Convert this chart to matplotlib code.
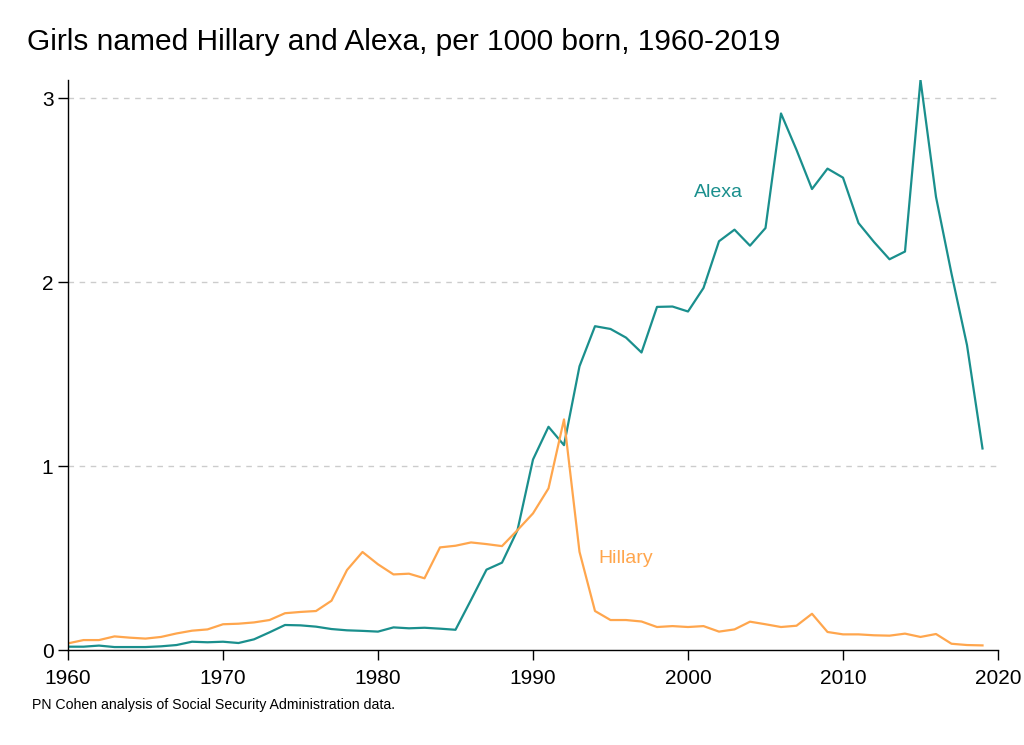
import matplotlib
matplotlib.use("Agg")
import matplotlib.pyplot as plt

plt.rcParams['font.family'] = ['Liberation Sans', 'DejaVu Sans']

years = list(range(1960, 2020))

hillary = [0.036, 0.054, 0.054, 0.074, 0.067, 0.062, 0.071, 0.090, 0.105, 0.112,
           0.140, 0.143, 0.150, 0.163, 0.200, 0.207, 0.212, 0.268, 0.435, 0.533,
           0.466, 0.411, 0.415, 0.390, 0.558, 0.567, 0.585, 0.576, 0.565, 0.652,
           0.743, 0.879, 1.254, 0.534, 0.212, 0.163, 0.163, 0.155, 0.125, 0.130,
           0.125, 0.130, 0.100, 0.112, 0.154, 0.140, 0.125, 0.132, 0.197, 0.098,
           0.085, 0.085, 0.080, 0.078, 0.089, 0.071, 0.087, 0.034, 0.027, 0.025]

alexa = [0.018, 0.018, 0.024, 0.016, 0.016, 0.016, 0.020, 0.027, 0.045, 0.042,
         0.045, 0.038, 0.058, 0.096, 0.136, 0.134, 0.127, 0.114, 0.107, 0.104,
         0.100, 0.123, 0.118, 0.121, 0.116, 0.110, 0.272, 0.437, 0.475, 0.652,
         1.036, 1.214, 1.114, 1.543, 1.761, 1.746, 1.699, 1.618, 1.866, 1.868,
         1.841, 1.969, 2.223, 2.286, 2.199, 2.295, 2.918, 2.720, 2.507, 2.618,
         2.569, 2.322, 2.219, 2.125, 2.167, 3.100, 2.464, 2.047, 1.658, 1.096]

x_ticks = [1960, 1970, 1980, 1990, 2000, 2010, 2020]
y_ticks = [0, 1, 2, 3]

teal = '#1a8f8d'
orange = '#ffa64d'

fig = plt.figure(figsize=(10.24, 7.45), dpi=100)
ax = fig.add_axes([68/1024, 1-650/745, (998-68)/1024, (650-80)/745])

for yv in y_ticks[1:]:
    ax.axhline(yv, color='#cccccc', lw=1, ls=(0, (4, 4)), zorder=0)

ax.plot(years, alexa, color=teal, lw=1.6)
ax.plot(years, hillary, color=orange, lw=1.6)

ax.text(2000.4, 2.49, 'Alexa', color=teal, fontsize=14, va='center', ha='left')
ax.text(1994.2, 0.50, 'Hillary', color=orange, fontsize=14, va='center', ha='left')

ax.set_xlim(1960, 2020)
ax.set_ylim(0, 3.1)
ax.set_xticks(x_ticks)
ax.set_yticks(y_ticks)
ax.tick_params(axis='both', direction='out', length=7.5, width=1, labelsize=15, colors='black')
ax.tick_params(axis='x', pad=6)
ax.tick_params(axis='y', pad=3)
for s in ['top', 'right']:
    ax.spines[s].set_visible(False)
for s in ['left', 'bottom']:
    ax.spines[s].set_linewidth(1)

fig.text(27/1024, 1-42/745, 'Girls named Hillary and Alexa, per 1000 born, 1960-2019',
         fontsize=21.5, va='center', ha='left')
fig.text(32/1024, 1-705/745, 'PN Cohen analysis of Social Security Administration data.',
         fontsize=10.2, va='center', ha='left')

fig.savefig('out.png', dpi=100)
